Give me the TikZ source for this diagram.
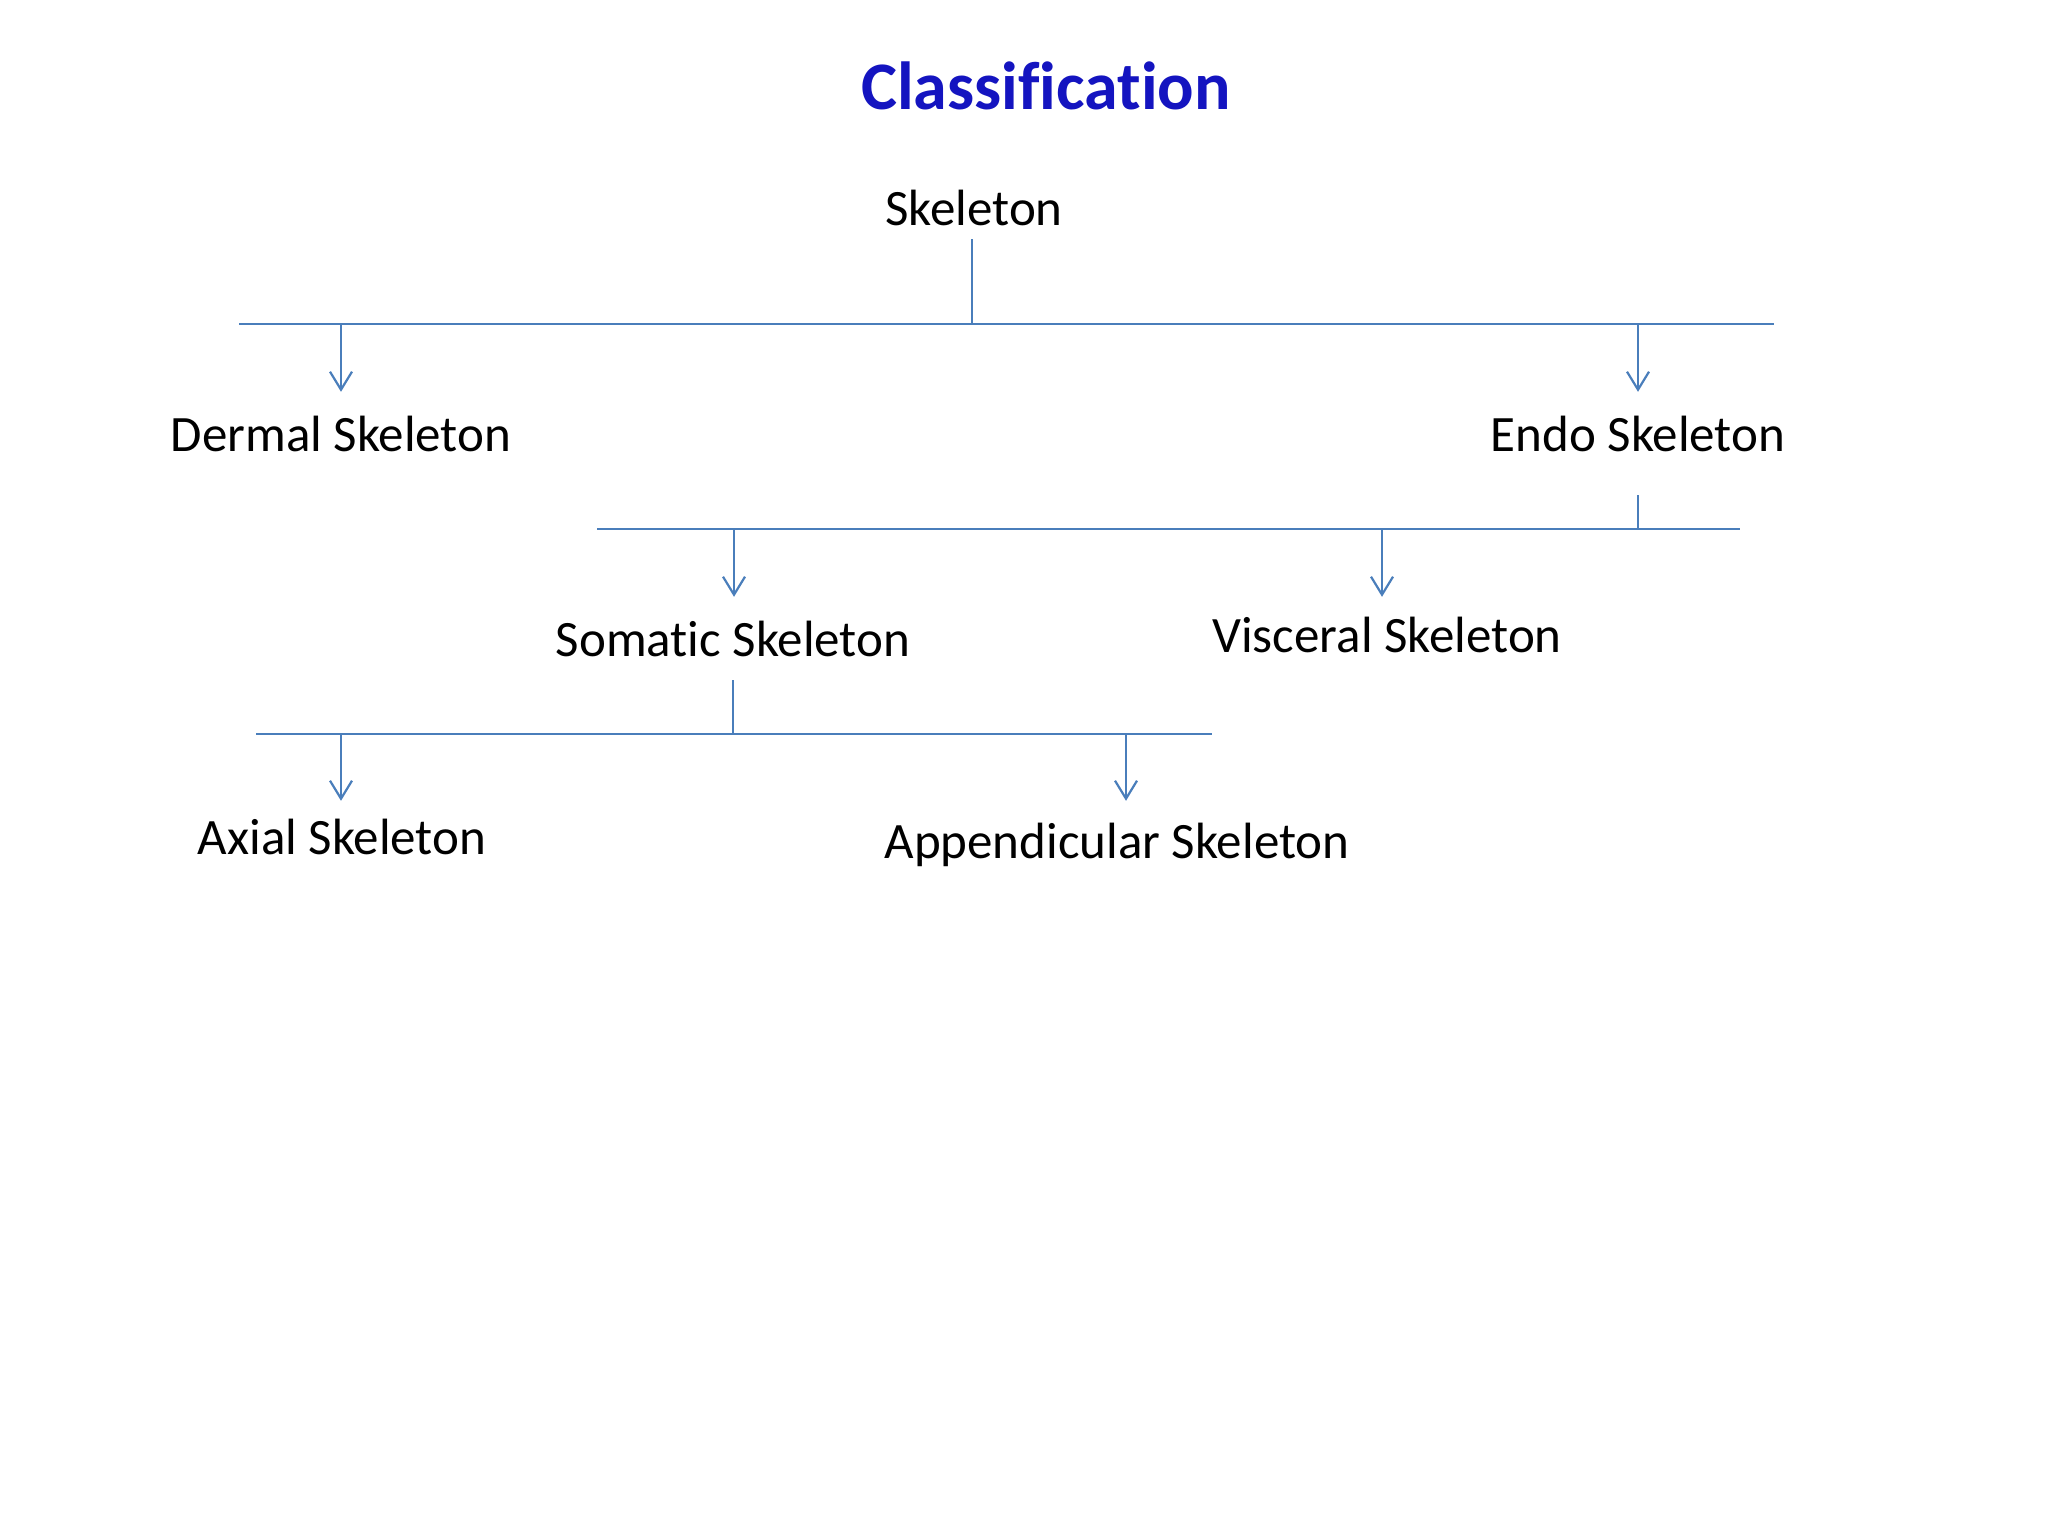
\documentclass[tikz,border=0pt]{standalone}
\usepackage{fontspec}
\setmainfont{Carlito}[Ligatures={NoCommon}]
\usetikzlibrary{arrows.meta}
\definecolor{linec}{HTML}{4A7EBB}
\definecolor{titlec}{HTML}{1414C0}
\begin{document}
\begin{tikzpicture}[x=1pt,y=-1pt,
  lbl/.style={inner sep=0pt, anchor=base, text height=36pt, text depth=12pt, font=\fontsize{51}{60}\selectfont},
  bar/.style={draw=linec, line width=2.2pt},
  arr/.style={draw=linec, line width=2.2pt, -{Straight Barb[length=18pt,width=22pt,line width=2.2pt]}}]
\useasboundingbox[fill=white] (0,0) rectangle (2048,1536);
\node[inner sep=0pt, anchor=base, text=titlec, font=\bfseries\fontsize{68}{80}\selectfont] (title) at (1046,110) {Classification};
\node[lbl] (skel) at (974,225) {Skeleton};
\node[lbl] (dermal) at (341,451) {Dermal Skeleton};
\node[lbl] (endo) at (1638,451) {Endo Skeleton};
\node[lbl] (somatic) at (733,656) {Somatic Skeleton};
\node[lbl] (visceral) at (1387,652) {Visceral Skeleton};
\node[lbl] (axial) at (342,854) {Axial Skeleton};
\node[lbl] (append) at (1117,858) {Appendicular Skeleton};
% bars
\coordinate (h1l) at (239,324); \coordinate (h1r) at (1774,324);
\coordinate (h2l) at (597,529); \coordinate (h2r) at (1740,529);
\coordinate (h3l) at (256,734); \coordinate (h3r) at (1212,734);
\draw[bar] (h1l) -- (h1r);
\draw[bar] (h2l) -- (h2r);
\draw[bar] (h3l) -- (h3r);
% stems
\draw[bar, shorten <=2pt] ([xshift=-2pt]skel.south) -- ([xshift=-2pt]skel.south |- h1l);
\draw[bar, shorten <=32pt] (endo.south) -- (endo.south |- h2l);
\draw[bar, shorten <=12pt] (somatic.south) -- (somatic.south |- h3l);
% arrows
\draw[arr, shorten >=23pt] (dermal.north |- h1l) -- (dermal.north);
\draw[arr, shorten >=23pt] (endo.north |- h1l) -- (endo.north);
\draw[arr, shorten >=23pt] ([xshift=1pt]somatic.north |- h2l) -- ([xshift=1pt]somatic.north);
\draw[arr, shorten >=19pt] ([xshift=-5pt]visceral.north |- h2l) -- ([xshift=-5pt]visceral.north);
\draw[arr, shorten >=17pt] ([xshift=-1pt]axial.north |- h3l) -- ([xshift=-1pt]axial.north);
\draw[arr, shorten >=21pt] ([xshift=9pt]append.north |- h3l) -- ([xshift=9pt]append.north);
\end{tikzpicture}
\end{document}
